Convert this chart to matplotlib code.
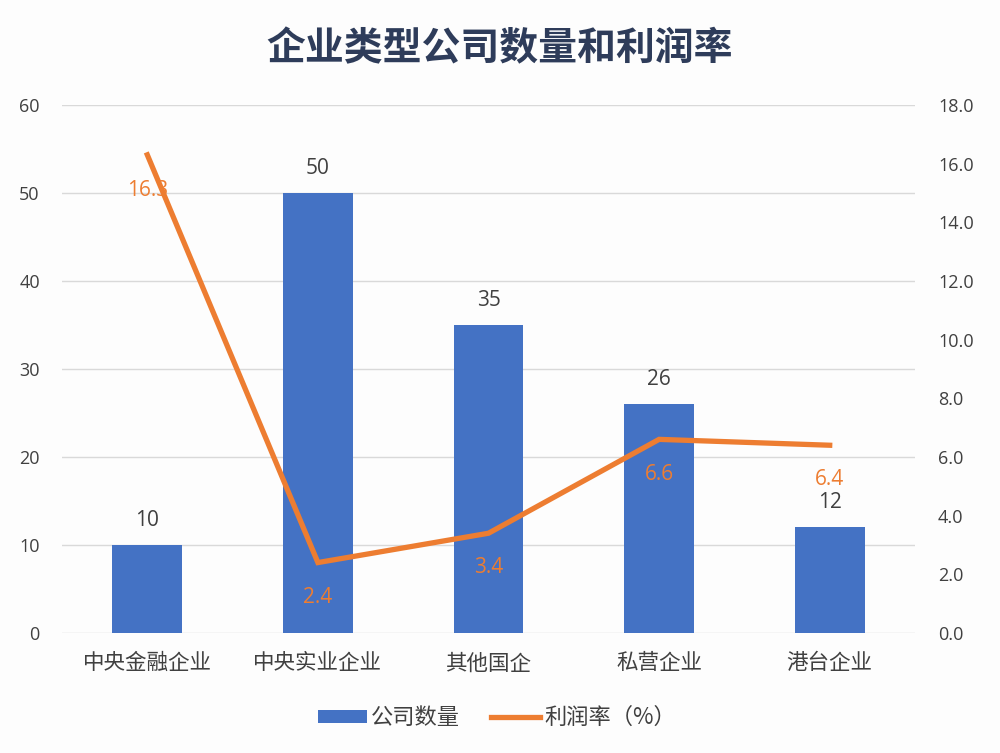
import matplotlib
matplotlib.use("Agg")
import matplotlib.pyplot as plt
from matplotlib.patches import Patch
from matplotlib.lines import Line2D

plt.rcParams['font.family'] = ['Open Sans', 'Noto Sans CJK SC', 'DejaVu Sans']

categories = ['中央金融企业', '中央实业企业', '其他国企', '私营企业', '港台企业']
company_counts = [10, 50, 35, 26, 12]
profit_rates = [16.3, 2.4, 3.4, 6.6, 6.4]
left_ticks = [0, 10, 20, 30, 40, 50, 60]
right_ticks = [0, 2, 4, 6, 8, 10, 12, 14, 16, 18]

bar_color = '#4472C4'
line_color = '#ED7D31'
text_color = '#404040'
cjk = ['Noto Sans CJK SC', 'DejaVu Sans']

fig = plt.figure(figsize=(10, 7.53), dpi=100, facecolor='#FDFDFD')
ax = fig.add_axes([0.062, 0.1594, 0.853, 0.7012])
ax.set_facecolor('#FDFDFD')
x = list(range(len(categories)))
ax.bar(x, company_counts, width=0.41, color=bar_color, zorder=2)
ax.set_xlim(-0.5, len(categories) - 0.5)
ax.set_ylim(0, 60)
ax.set_yticks(left_ticks)
ax.grid(axis='y', color='#D9D9D9', linewidth=1, zorder=0)
for s in ax.spines.values():
    s.set_visible(False)
ax.tick_params(axis='both', length=0, labelsize=13, colors=text_color)
ax.tick_params(axis='y', pad=16)
ax.tick_params(axis='x', pad=14)
ax.set_xticks(x)
ax.set_xticklabels(categories, fontsize=15.5, family=cjk)
for xi, v in zip(x, company_counts):
    ax.annotate(f'{v}', (xi, v), xytext=(0, 10), textcoords='offset points',
                ha='center', va='bottom', fontsize=15, color=text_color)

ax2 = ax.twinx()
ax2.set_ylim(0, 18)
ax2.set_yticks(right_ticks)
ax2.set_yticklabels([f'{t:.1f}' for t in right_ticks])
for s in ax2.spines.values():
    s.set_visible(False)
ax2.tick_params(axis='y', length=0, labelsize=13, colors=text_color, pad=16.5)
ax2.plot(x, profit_rates, color=line_color, linewidth=3.8, zorder=3, solid_joinstyle='miter')
offsets = [-26, -25, -25, -25, -25]
for xi, v, off in zip(x, profit_rates, offsets):
    ax2.annotate(f'{v}', (xi, v), xytext=(0, off), textcoords='offset points',
                 ha='center', va='center', fontsize=15, color=line_color)

fig.text(0.5, 0.935, '企业类型公司数量和利润率', ha='center', va='center',
         fontsize=28, fontweight='bold', color='#2E3C5A', family=cjk)

handles = [Patch(facecolor=bar_color, edgecolor='none'),
           Line2D([0], [0], color=line_color, linewidth=3.8)]
fig.legend(handles, ['公司数量', '利润率（%）'], loc='center', bbox_to_anchor=(0.497, 0.047),
           ncol=2, frameon=False, prop={'family': cjk, 'size': 16}, handlelength=2.2,
           handleheight=0.55, columnspacing=1.4, handletextpad=0.2, labelcolor=text_color)

fig.savefig('out.png', dpi=100, facecolor=fig.get_facecolor())
